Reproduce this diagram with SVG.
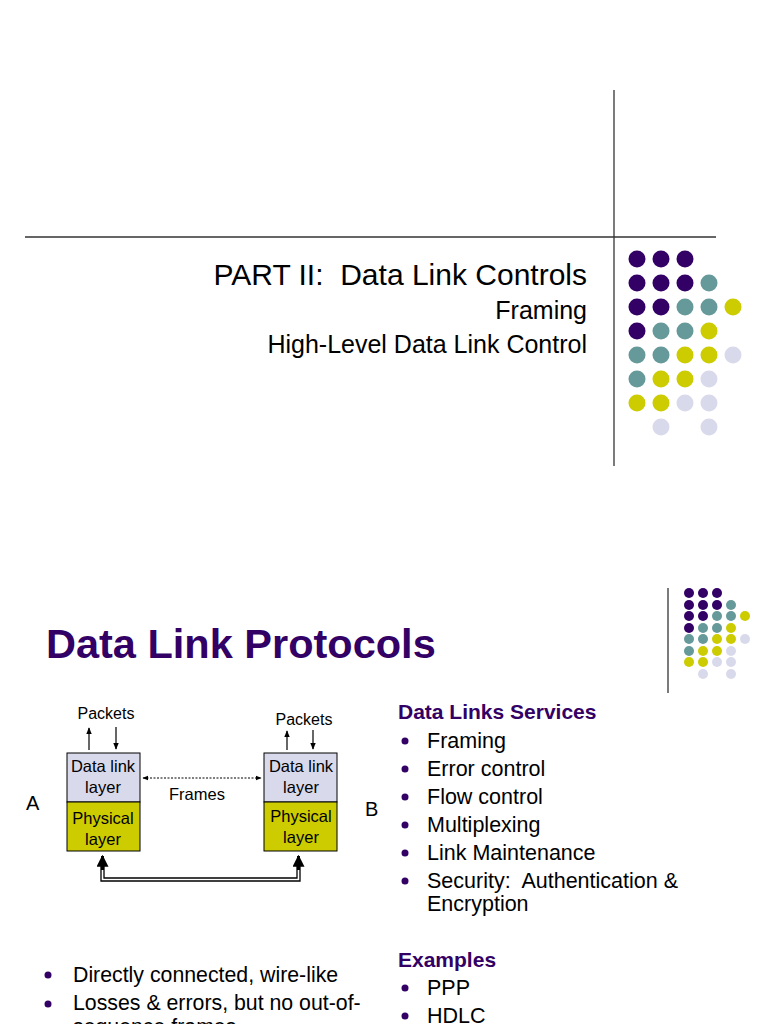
<svg xmlns="http://www.w3.org/2000/svg" width="768" height="1024" viewBox="0 0 768 1024">
<style>
text{font-family:"Liberation Sans",Arial,sans-serif;fill:#000}
.P{fill:#330066}.T{fill:#669999}.Y{fill:#cccc00}.L{fill:#d9d9ec}
.ln{stroke:#333;stroke-width:1.3}
.h{fill:#330066;font-weight:bold}
.b{fill:#330066}
</style>
<defs>
<marker id="ah" viewBox="0 0 10 10" refX="9" refY="5" markerWidth="6" markerHeight="6" orient="auto-start-reverse"><path d="M0,1L10,5L0,9z" fill="#000"/></marker>
<marker id="big" viewBox="0 0 10 10" refX="9" refY="5" markerWidth="4" markerHeight="4" orient="auto"><path d="M0,0L10,5L0,10z" fill="#000"/></marker>
</defs>
<rect width="768" height="1024" fill="#fff"/>
<g id="slide1">
<line class="ln" x1="25" y1="237" x2="716" y2="237"/>
<line class="ln" x1="614" y1="90" x2="614" y2="466"/>
<text x="587" y="285" font-size="30" text-anchor="end" xml:space="preserve">PART II:  Data Link Controls</text>
<text x="587" y="319" font-size="25" text-anchor="end">Framing</text>
<text x="587" y="353" font-size="25" text-anchor="end">High-Level Data Link Control</text>
<g id="dots1">
<circle class="P" cx="637" cy="259" r="8.5"/><circle class="P" cx="661" cy="259" r="8.5"/><circle class="P" cx="685" cy="259" r="8.5"/>
<circle class="P" cx="637" cy="283" r="8.5"/><circle class="P" cx="661" cy="283" r="8.5"/><circle class="P" cx="685" cy="283" r="8.5"/><circle class="T" cx="709" cy="283" r="8.5"/>
<circle class="P" cx="637" cy="307" r="8.5"/><circle class="P" cx="661" cy="307" r="8.5"/><circle class="T" cx="685" cy="307" r="8.5"/><circle class="T" cx="709" cy="307" r="8.5"/><circle class="Y" cx="733" cy="307" r="8.5"/>
<circle class="P" cx="637" cy="331" r="8.5"/><circle class="T" cx="661" cy="331" r="8.5"/><circle class="T" cx="685" cy="331" r="8.5"/><circle class="Y" cx="709" cy="331" r="8.5"/>
<circle class="T" cx="637" cy="355" r="8.5"/><circle class="T" cx="661" cy="355" r="8.5"/><circle class="Y" cx="685" cy="355" r="8.5"/><circle class="Y" cx="709" cy="355" r="8.5"/><circle class="L" cx="733" cy="355" r="8.5"/>
<circle class="T" cx="637" cy="379" r="8.5"/><circle class="Y" cx="661" cy="379" r="8.5"/><circle class="Y" cx="685" cy="379" r="8.5"/><circle class="L" cx="709" cy="379" r="8.5"/>
<circle class="Y" cx="637" cy="403" r="8.5"/><circle class="Y" cx="661" cy="403" r="8.5"/><circle class="L" cx="685" cy="403" r="8.5"/><circle class="L" cx="709" cy="403" r="8.5"/>
<circle class="L" cx="661" cy="427" r="8.5"/><circle class="L" cx="709" cy="427" r="8.5"/>
</g>
</g>
<g id="slide2">
<line class="ln" x1="668" y1="588" x2="668" y2="693"/>
<g id="dots2">
<circle class="P" cx="689" cy="593" r="5"/><circle class="P" cx="703" cy="593" r="5"/><circle class="P" cx="717" cy="593" r="5"/>
<circle class="P" cx="689" cy="605" r="5"/><circle class="P" cx="703" cy="605" r="5"/><circle class="P" cx="717" cy="605" r="5"/><circle class="T" cx="731" cy="605" r="5"/>
<circle class="P" cx="689" cy="616" r="5"/><circle class="P" cx="703" cy="616" r="5"/><circle class="T" cx="717" cy="616" r="5"/><circle class="T" cx="731" cy="616" r="5"/><circle class="Y" cx="745" cy="616" r="5"/>
<circle class="P" cx="689" cy="628" r="5"/><circle class="T" cx="703" cy="628" r="5"/><circle class="T" cx="717" cy="628" r="5"/><circle class="Y" cx="731" cy="628" r="5"/>
<circle class="T" cx="689" cy="639" r="5"/><circle class="T" cx="703" cy="639" r="5"/><circle class="Y" cx="717" cy="639" r="5"/><circle class="Y" cx="731" cy="639" r="5"/><circle class="L" cx="745" cy="639" r="5"/>
<circle class="T" cx="689" cy="651" r="5"/><circle class="Y" cx="703" cy="651" r="5"/><circle class="Y" cx="717" cy="651" r="5"/><circle class="L" cx="731" cy="651" r="5"/>
<circle class="Y" cx="689" cy="662" r="5"/><circle class="Y" cx="703" cy="662" r="5"/><circle class="L" cx="717" cy="662" r="5"/><circle class="L" cx="731" cy="662" r="5"/>
<circle class="L" cx="703" cy="674" r="5"/><circle class="L" cx="731" cy="674" r="5"/>
</g>
<text x="46" y="658" font-size="41.5" class="h">Data Link Protocols</text>
<g id="nodeA">
<rect x="67" y="753" width="73" height="49" fill="#d9d9ec" stroke="#000"/>
<rect x="67" y="802" width="73" height="49" fill="#cccc00" stroke="#000"/>
<text x="103" y="772" font-size="16.5" text-anchor="middle">Data link</text>
<text x="103" y="793" font-size="16.5" text-anchor="middle">layer</text>
<text x="103" y="824" font-size="16.5" text-anchor="middle">Physical</text>
<text x="103" y="845" font-size="16.5" text-anchor="middle">layer</text>
<text x="106" y="719" font-size="16" text-anchor="middle">Packets</text>
<text x="26" y="810" font-size="20">A</text>
</g>
<g id="nodeB">
<rect x="264" y="753" width="73" height="49" fill="#d9d9ec" stroke="#000"/>
<rect x="264" y="802" width="73" height="49" fill="#cccc00" stroke="#000"/>
<text x="301" y="772" font-size="16.5" text-anchor="middle">Data link</text>
<text x="301" y="793" font-size="16.5" text-anchor="middle">layer</text>
<text x="301" y="822" font-size="16.5" text-anchor="middle">Physical</text>
<text x="301" y="843" font-size="16.5" text-anchor="middle">layer</text>
<text x="304" y="725" font-size="16" text-anchor="middle">Packets</text>
<text x="365" y="816" font-size="20">B</text>
</g>
<g id="connectors" stroke="#000" fill="none">
<line x1="89" y1="750" x2="89" y2="728" stroke-width="1.2" marker-end="url(#ah)"/>
<line x1="116" y1="727" x2="116" y2="749" stroke-width="1.2" marker-end="url(#ah)"/>
<line x1="287" y1="750" x2="287" y2="731" stroke-width="1.2" marker-end="url(#ah)"/>
<line x1="313" y1="730" x2="313" y2="749" stroke-width="1.2" marker-end="url(#ah)"/>
<line x1="143" y1="778" x2="261" y2="778" stroke-width="1" stroke-dasharray="2,1.5" marker-start="url(#ah)" marker-end="url(#ah)"/>
<path d="M101,866V881H300V866M104,866V878H297V866" stroke-width="1.3"/>
<line x1="102.5" y1="870" x2="102.5" y2="856" stroke-width="3" marker-end="url(#big)"/>
<line x1="298.5" y1="870" x2="298.5" y2="856" stroke-width="3" marker-end="url(#big)"/>
</g>
<text x="197" y="800" font-size="16.5" text-anchor="middle">Frames</text>
<g id="services">
<text x="398" y="719" font-size="21" class="h">Data Links Services</text>
<g font-size="21.5">
<circle class="b" cx="405" cy="741" r="3.5"/><text x="427" y="748">Framing</text>
<circle class="b" cx="405" cy="769" r="3.5"/><text x="427" y="776">Error control</text>
<circle class="b" cx="405" cy="797" r="3.5"/><text x="427" y="804">Flow control</text>
<circle class="b" cx="405" cy="825" r="3.5"/><text x="427" y="832">Multiplexing</text>
<circle class="b" cx="405" cy="853" r="3.5"/><text x="427" y="860">Link Maintenance</text>
<circle class="b" cx="405" cy="881" r="3.5"/><text x="427" y="888" xml:space="preserve">Security:  Authentication &amp;</text>
<text x="427" y="911">Encryption</text>
</g>
<text x="398" y="967" font-size="21" class="h">Examples</text>
<circle class="b" cx="405" cy="988" r="3.5"/><text x="427" y="995" font-size="21.5">PPP</text>
<circle class="b" cx="405" cy="1016" r="3.5"/><text x="427" y="1023" font-size="21.5">HDLC</text>
</g>
<g id="bullets" font-size="21.3">
<circle class="b" cx="48" cy="975" r="3.5"/><text x="73" y="982">Directly connected, wire-like</text>
<circle class="b" cx="48" cy="1004" r="3.5"/><text x="73" y="1010">Losses &amp; errors, but no out-of-</text>
<text x="73" y="1034">sequence frames</text>
</g>
</g>
</svg>
